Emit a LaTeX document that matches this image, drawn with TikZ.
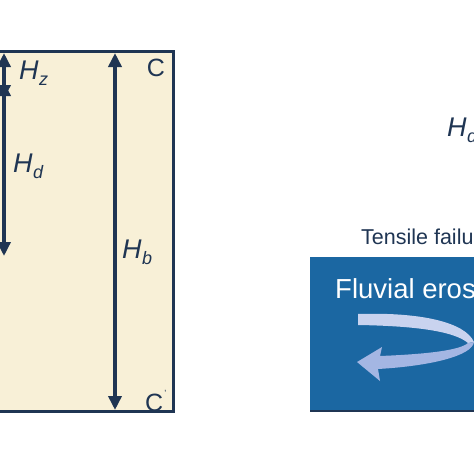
\documentclass[tikz,border=0pt]{standalone}
\usepackage{fontspec}
\setmainfont{Liberation Sans}
\usetikzlibrary{arrows.meta}
\definecolor{navy}{HTML}{1F3553}
\definecolor{cream}{HTML}{F8F0D7}
\definecolor{river}{HTML}{1B67A2}
\definecolor{swirltop}{HTML}{C9D3EF}
\definecolor{swirlbot}{HTML}{A4B6E3}
\newcommand{\hsym}[1]{\textit{H\kern0.5pt\raisebox{-0.22em}{\fontsize{18}{18}\selectfont #1}}}
\tikzset{
  dimarrow/.style={navy, line width=3.4pt, {Triangle[length=14pt,width=13pt]}-{Triangle[length=14pt,width=13pt]}},
  hlabel/.style={text=navy, font=\fontsize{27}{31}\selectfont, inner sep=0pt},
  plabel/.style={text=navy, font=\fontsize{25}{29}\selectfont, inner sep=0pt},
}
\begin{document}
\begin{tikzpicture}[x=1pt, y=-1pt]
\useasboundingbox (0,0) rectangle (474,474);
% bank block
\draw[navy, line width=3pt, fill=cream] (-10,51) rectangle (173,411);
\coordinate (hztop) at (4,53);
\coordinate (hzbot) at (4,99);
\coordinate (hdtop) at (4,82);
\coordinate (hdbot) at (4,256);
\coordinate (hbtop) at (115,53);
\coordinate (hbbot) at (115,410);
\draw[dimarrow] (hztop) -- (hzbot);
\draw[dimarrow] (hdtop) -- (hdbot);
\draw[dimarrow, line width=3.8pt] (hbtop) -- (hbbot);
\node[hlabel, anchor=west] (hz) at (19,73) {\hsym{z}};
\node[hlabel, anchor=west] (hd) at (13,166) {\hsym{d}};
\node[hlabel, anchor=west] (hb) at (122,252) {\hsym{b}};
\node[plabel] (c) at (156,68) {C};
\node[plabel, anchor=west] (cp) at (145,401) {C\kern1pt\raisebox{0.6em}{\fontsize{9}{9}\selectfont '}};
% right panel
\node[hlabel, anchor=west] (hdr) at (447,130) {\hsym{d}};
\node[text=navy, font=\fontsize{21.5}{25}\selectfont, anchor=west, inner sep=0pt] (tensile) at (361,237) {Tensile failu};
\fill[river] (310,257) rectangle (480,410);
\draw[navy, line width=2.5pt] (310,411) -- (480,411);
\node[text=white, font=\fontsize{27.5}{31}\selectfont, anchor=west, inner sep=0pt] (fluvial) at (335,289) {Fluvial eros};
% swirl
\fill[swirltop] (358,314) .. controls (420,312) and (465,322) .. (474,342)
  -- (468,343) .. controls (455,332) and (420,326) .. (358,325) -- cycle;
\fill[swirlbot] (474,342) .. controls (472,356) and (430,366) .. (378,369)
  -- (380,381) -- (357,362) -- (382,347) -- (380,356)
  .. controls (430,354) and (460,350) .. (468,343) -- cycle;
\end{tikzpicture}
\end{document}
